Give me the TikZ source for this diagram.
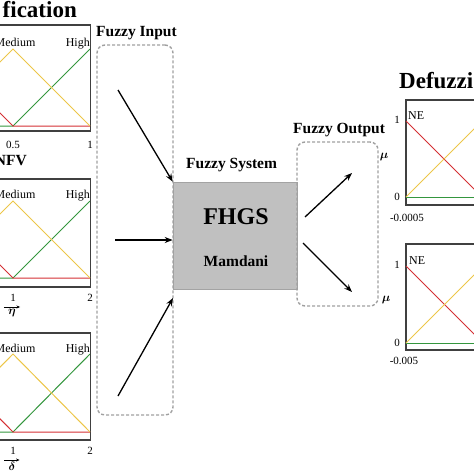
\documentclass[tikz,border=0pt]{standalone}
\usepackage{amsmath}
\usepackage{xcolor}
\usepackage{fontspec}
\setmainfont{Liberation Serif}
\usetikzlibrary{arrows.meta}

\definecolor{mfred}{RGB}{212,48,52}
\definecolor{mfyellow}{RGB}{236,198,72}
\definecolor{mfgreen}{RGB}{52,150,62}
\definecolor{boxgray}{RGB}{192,192,192}
\definecolor{dashgray}{RGB}{160,160,160}
\definecolor{framegray}{RGB}{64,64,64}

\tikzset{
	heading/.style={font=\bfseries\fontsize{23}{26}\selectfont, inner sep=0pt},
	stage/.style={font=\bfseries\fontsize{15.5}{18}\selectfont, inner sep=0pt},
	mflabel/.style={font=\fontsize{12}{14}\selectfont, inner sep=0pt},
	ticklabel/.style={font=\fontsize{11}{13}\selectfont, inner sep=0pt},
	plotframe/.style={draw=framegray, line width=1.5pt},
	mfline/.style={line width=1pt},
	groupbox/.style={draw=dashgray, line width=1.4pt, dash pattern=on 3pt off 2pt, rounded corners=8pt, inner sep=0pt},
	flow/.style={line width=1.3pt, -{Stealth[length=8pt,width=6pt]}},
	varname/.style={font=\fontsize{13}{15}\selectfont, inner xsep=4pt, inner ysep=0pt},
	vecarrow/.style={line width=0.7pt, -{Stealth[length=3.5pt,width=3pt]}},
}

\begin{document}
\begin{tikzpicture}[x=1pt, y=-1pt]
	\useasboundingbox (0,0) rectangle (474,474);
	\clip (0,0) rectangle (474,474);

	% Stage headings
	\node[heading, anchor=base east] (fuzzif) at (77,17) {fication};
	\node[heading, anchor=base west] (defuzz) at (399,88) {Defuzzi};

	% Input membership functions: first input
	\draw[plotframe] (-20,25) rectangle (90.5,131);
	\draw[mfline, mfgreen] (-20,126) -- (13,126) -- (90,49);
	\draw[mfline, mfred] (-64,49) -- (13,126) -- (90,126);
	\draw[mfline, mfyellow] (-64,126) -- (13,49) -- (90,126);
	\node[mflabel, anchor=base] (med1) at (15,46) {Medium};
	\node[mflabel, anchor=base east] (high1) at (90,46) {High};
	\node[ticklabel, anchor=base] (tick1a) at (13,148) {0.5};
	\node[ticklabel, anchor=base] (tick1b) at (90,148) {1};
	\node[stage, anchor=base east] (nfv) at (27,165) {NFV};

	% Second input
	\draw[plotframe] (-20,179) rectangle (90.5,287);
	\draw[mfline, mfgreen] (-20,278) -- (13,278) -- (90,201);
	\draw[mfline, mfred] (-64,201) -- (13,278) -- (90,278);
	\draw[mfline, mfyellow] (-64,278) -- (13,201) -- (90,278);
	\node[mflabel, anchor=base] (med2) at (15,198) {Medium};
	\node[mflabel, anchor=base east] (high2) at (90,198) {High};
	\node[ticklabel, anchor=base] (tick2a) at (13,301) {1};
	\node[ticklabel, anchor=base] (tick2b) at (90,301) {2};
	\node[varname, anchor=north] (eta) at (12,309) {$\boldsymbol{\eta}$};
	\draw[vecarrow] ([yshift=2pt]eta.north west) -- ([yshift=2pt]eta.north east);

	% Third input
	\draw[plotframe] (-20,333) rectangle (90.5,440);
	\draw[mfline, mfgreen] (-20,432) -- (13,432) -- (90,354);
	\draw[mfline, mfred] (-64,354) -- (13,432) -- (90,432);
	\draw[mfline, mfyellow] (-64,432) -- (13,354) -- (90,432);
	\node[mflabel, anchor=base] (med3) at (15,352) {Medium};
	\node[mflabel, anchor=base east] (high3) at (90,352) {High};
	\node[ticklabel, anchor=base] (tick3a) at (13,454) {1};
	\node[ticklabel, anchor=base] (tick3b) at (90,454) {2};
	\node[varname, anchor=north] (delta) at (12,462) {$\boldsymbol{\delta}$};
	\draw[vecarrow] ([yshift=2pt]delta.north west) -- ([yshift=2pt]delta.north east);

	% Fuzzy system block
	\node[fill=boxgray, draw=boxgray!85!black, line width=0.6pt, minimum width=124pt, minimum height=107pt, inner sep=0pt] (fhgs) at (235,235.5) {};
	\node[font=\bfseries\fontsize{24}{28}\selectfont, anchor=base, inner sep=0pt] (fhgsname) at (236,224) {FHGS};
	\node[stage, anchor=base] (mamdani) at (236,266) {Mamdani};
	\node[stage, anchor=base west] (syslabel) at (186,168) {Fuzzy System};

	% Dashed groups for fuzzy input and output
	\node[groupbox, minimum width=76pt, minimum height=370pt] (inbox) at (135,230) {};
	\node[stage, anchor=base west] (inlabel) at (96,36) {Fuzzy Input};
	\node[groupbox, minimum width=81pt, minimum height=164pt] (outbox) at (337.5,224) {};
	\node[stage, anchor=base west] (outlabel) at (293,133) {Fuzzy Output};

	% Input arrows
	\coordinate (in1) at (118,90);
	\coordinate (in2) at (115,240);
	\coordinate (in3) at (118,396);
	\coordinate (in3end) at (173,298);
	\draw[flow] (in1) -- (fhgs.north west);
	\draw[flow] (in2) -- (in2 -| fhgs.west);
	\draw[flow] (in3) -- (in3end);

	% Output arrows
	\coordinate (out1) at (305,217);
	\coordinate (out1end) at (352,173);
	\coordinate (out2) at (303,243);
	\coordinate (out2end) at (352,292);
	\draw[flow] (out1) -- (out1end);
	\draw[flow] (out2) -- (out2end);

	% Output membership functions: first output
	\draw[plotframe] (406,100) rectangle (500,205);
	\draw[mfline, mfgreen] (406,197) -- (500,197);
	\draw[mfline, mfred] (406,121) -- (482,197) -- (500,197);
	\draw[mfline, mfyellow] (406,197) -- (482,121);
	\node[ticklabel, anchor=base east] (r1one) at (400,123) {1};
	\node[ticklabel, anchor=base east] (r1zero) at (400,200) {0};
	\node[mflabel, anchor=base west] (r1ne) at (408,119) {NE};
	\node[ticklabel, anchor=base] (r1min) at (407,221) {-0.0005};
	\node[varname] (mu1) at (384,157) {$\boldsymbol{\mu}$};

	% Second output
	\draw[plotframe] (406,244) rectangle (500,350);
	\draw[mfline, mfgreen] (406,343) -- (500,343);
	\draw[mfline, mfred] (406,266) -- (483,343) -- (500,343);
	\draw[mfline, mfyellow] (406,343) -- (483,266);
	\node[ticklabel, anchor=base east] (r2one) at (400,268) {1};
	\node[ticklabel, anchor=base east] (r2zero) at (400,346) {0};
	\node[mflabel, anchor=base west] (r2ne) at (409,264) {NE};
	\node[ticklabel, anchor=base] (r2min) at (404,364) {-0.005};
	\node[varname] (mu2) at (386,300) {$\boldsymbol{\mu}$};
\end{tikzpicture}
\end{document}
